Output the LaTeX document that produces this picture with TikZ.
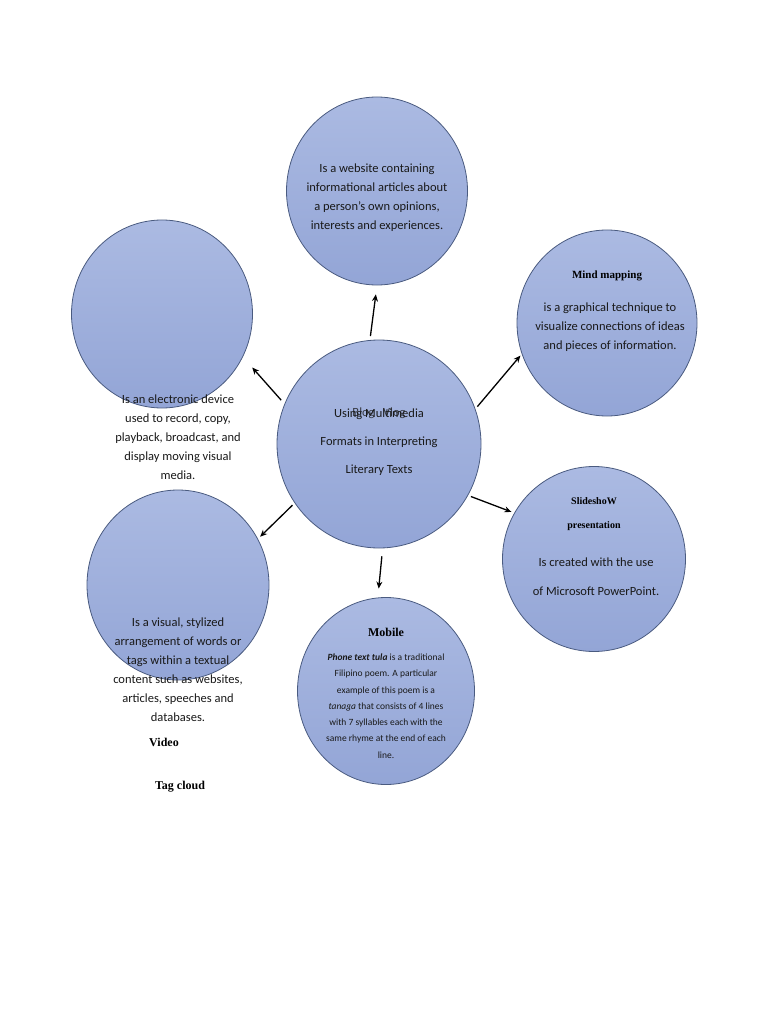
\documentclass[tikz,border=0pt]{standalone}
\usepackage{fontspec}
\setmainfont{Carlito}
\newfontfamily\serifb{Liberation Serif}
\usetikzlibrary{shapes.geometric,arrows.meta}
\definecolor{ctop}{HTML}{ABBAE2}
\definecolor{cbot}{HTML}{93A5D6}
\definecolor{edge}{HTML}{4A5B80}
\tikzset{
 bub/.style={ellipse,draw=edge,line width=0.8pt,top color=ctop,bottom color=cbot,inner sep=0pt},
 txt/.style={align=center,font=\fontsize{12.5}{19}\selectfont,text=black!90},
 hd/.style={align=center,font=\serifb\bfseries\fontsize{11}{16}\selectfont},
 arr/.style={-{Stealth[length=7pt,width=6pt]},line width=1.3pt}
}
\begin{document}
\begin{tikzpicture}[x=1pt,y=-1pt]
\useasboundingbox[fill=white] (0,0) rectangle (768,1024);
\node[bub,minimum width=181,minimum height=188] (top) at (377,191) {};
\node[bub,minimum width=181,minimum height=188] (ul) at (162,314) {};
\node[bub,minimum width=180,minimum height=186] (ur) at (607,323) {};
\node[bub,minimum width=204,minimum height=208] (c) at (379,444) {};
\node[bub,minimum width=183,minimum height=185] (lr) at (594,559) {};
\node[bub,minimum width=182,minimum height=190] (ll) at (178,585) {};
\node[bub,minimum width=177,minimum height=187] (b) at (386,691) {};

\node[txt] (ttop) at (377,198) {Is a website containing\\informational articles about\\a person’s own opinions,\\interests and experiences.};
\node[hd] (hur) at (607,276) {Mind mapping};
\node[txt] (tur) at (610,327) {is a graphical technique to\\visualize connections of ideas\\and pieces of information.};
\node[txt,font=\fontsize{12.5}{28}\selectfont] (tc) at (379,442) {Using Multimedia\\Formats in Interpreting\\Literary Texts};
\node[txt,font=\fontsize{12.5}{28}\selectfont,opacity=0.8] (tc2) at (379,413) {Blog~~~Vlog};
\node[hd,font=\serifb\bfseries\fontsize{10}{24}\selectfont] (hlr) at (594,514) {SlideshoW\\presentation};
\node[txt,font=\fontsize{12.5}{29}\selectfont] (tlr) at (596,577) {Is created with the use\\of Microsoft PowerPoint.};
\node[txt] (tul) at (178,437) {Is an electronic device\\used to record, copy,\\playback, broadcast, and\\display moving visual\\media.};
\node[txt] (tll) at (178,670) {Is a visual, stylized\\arrangement of words or\\tags within a textual\\content such as websites,\\articles, speeches and\\databases.};
\node[hd,font=\serifb\bfseries\fontsize{12}{16}\selectfont] (hb) at (386,632) {Mobile};
\node[txt,font=\fontsize{9.5}{16.3}\selectfont] (tb) at (386,706) {\textbf{\textit{Phone text tula}} is a traditional\\Filipino poem. A particular\\example of this poem is a\\\textit{tanaga} that consists of 4 lines\\with 7 syllables each with the\\same rhyme at the end of each\\line.};
\node[hd,font=\serifb\bfseries\fontsize{12}{16}\selectfont] (lv) at (164,742) {Video};
\node[hd,font=\serifb\bfseries\fontsize{12}{16}\selectfont] (ltc) at (180,787) {Tag cloud};

\draw[arr,shorten <=4pt,shorten >=9pt] (c.95) -- (top.south);
\draw[arr,shorten <=5pt,shorten >=14pt] (c.157) -- (ul.-28);
\draw[arr,shorten <=3pt,shorten >=2pt] (c.20) -- (ur.200);
\draw[arr,shorten <=3pt,shorten >=3pt] (c.-30) -- (lr.150);
\draw[arr,shorten <=3pt,shorten >=3pt] (c.-145) -- (ll.30);
\draw[arr,shorten <=8pt,shorten >=9pt] (c.-88) -- (b.95);
\end{tikzpicture}
\end{document}
